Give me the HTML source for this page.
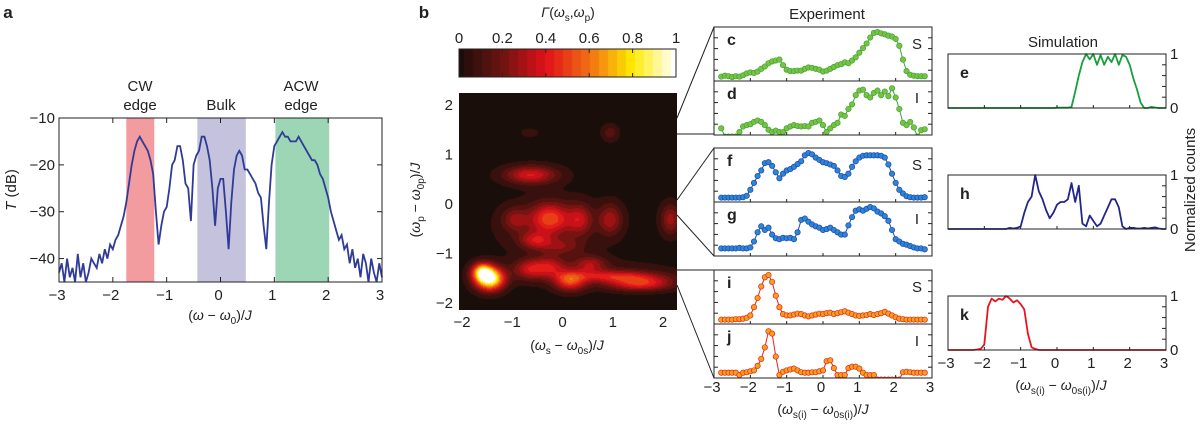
<!DOCTYPE html>
<html><head><meta charset="utf-8"><style>
body{margin:0;background:#fff;width:1200px;height:425px;overflow:hidden;position:relative;font-family:"Liberation Sans",sans-serif}
#hm{position:absolute;left:459px;top:93px}
#cb{position:absolute;left:459px;top:49px}
svg{position:absolute;left:0;top:0}
</style></head><body>
<canvas id="hm" width="218" height="217"></canvas>
<canvas id="cb" width="217" height="28"></canvas>
<svg id="s" width="1200" height="425" font-family="Liberation Sans, sans-serif" font-size="14"></svg>
<script>
// ---- panel a data ----
const aX=[-3,-2.95,-2.9,-2.85,-2.8,-2.75,-2.7,-2.65,-2.6,-2.55,-2.5,-2.45,-2.4,-2.35,-2.3,-2.25,-2.2,-2.15,-2.1,-2.05,-2,-1.95,-1.9,-1.85,-1.8,-1.75,-1.7,-1.65,-1.6,-1.55,-1.5,-1.45,-1.4,-1.35,-1.3,-1.25,-1.2,-1.15,-1.1,-1.05,-1,-0.95,-0.9,-0.85,-0.8,-0.75,-0.7,-0.65,-0.6,-0.55,-0.5,-0.45,-0.4,-0.35,-0.3,-0.25,-0.2,-0.15,-0.1,-0.05,0,0.05,0.1,0.15,0.2,0.25,0.3,0.35,0.4,0.45,0.5,0.55,0.6,0.65,0.7,0.75,0.8,0.85,0.9,0.95,1,1.05,1.1,1.15,1.2,1.25,1.3,1.35,1.4,1.45,1.5,1.55,1.6,1.65,1.7,1.75,1.8,1.85,1.9,1.95,2,2.05,2.1,2.15,2.2,2.25,2.3,2.35,2.4,2.45,2.5,2.55,2.6,2.65,2.7,2.75,2.8,2.85,2.9,2.95,3];
const aT=[-43,-41,-45,-40,-44,-42,-45,-39,-44,-41,-45,-43,-40,-41,-42,-39,-41,-38,-40,-37,-38,-36,-35,-33,-31,-28,-24,-20,-17,-15,-14,-15,-16,-17,-19,-22,-30,-37,-33,-30,-29,-25,-20,-19,-16,-16,-19,-24,-25,-32,-20,-18,-17,-14,-14,-16,-19,-25,-33,-25,-23,-23,-30,-38,-28,-21,-18,-17,-18,-21,-21,-22,-23,-24,-26,-27,-33,-38,-28,-20,-16,-15,-14,-13,-14,-14,-15,-15,-15,-14,-15,-16,-17,-18,-19,-19,-20,-22,-23,-25,-27,-30,-32,-34,-36,-35,-38,-37,-41,-38,-42,-40,-44,-39,-41,-45,-40,-43,-45,-41,-44];
const aXTicks=[-3,-2,-1,0,1,2,3];
const aYTicks=[-10,-20,-30,-40];
const bandStart=[-1.75,-0.43,1.02];
const bandEnd=[-1.23,0.47,2.02];
const bandColor=["#f29ca0","#c4c2dd","#9dd6b4"];
// ---- heatmap blobs ----
const blobX=[-1.5,-1.65,-0.3,-0.7,-0.6,0.1,1.5,1.0,-0.7,0.3,0.9,2.1,-1.0,0.9,-0.7,0.5,-0.3,-0.1,-0.3,0.6,-0.6];
const blobY=[-1.5,-1.35,-0.28,0.6,-0.72,-1.55,-1.6,-1.45,-1.3,-0.3,-0.3,-0.3,-0.3,1.45,1.45,-1.2,-1.25,-0.85,-0.5,-1.4,0.6];
const blobAmp=[1.0,0.6,0.45,0.3,0.28,0.45,0.42,0.3,0.3,0.28,0.28,0.28,0.22,0.15,0.1,0.25,0.28,0.18,0.09,0.11,0.1];
const blobSx=[0.2,0.14,0.28,0.35,0.22,0.22,0.45,0.6,0.22,0.17,0.17,0.14,0.18,0.12,0.12,0.22,0.22,0.3,0.8,1.1,0.42];
const blobSy=[0.16,0.12,0.22,0.12,0.12,0.14,0.1,0.08,0.14,0.22,0.22,0.22,0.17,0.12,0.06,0.12,0.14,0.12,0.45,0.18,0.16];
const cbTicks=[0,0.2,0.4,0.6,0.8,1];
const hmXTicks=[-2,-1,0,1,2];
const hmYTicks=[2,1,0,-1,-2];
// ---- experiment series ----
const expC=[0.03,0.05,0.04,0.02,0.04,0.03,0.06,0.1,0.12,0.11,0.14,0.2,0.25,0.32,0.36,0.38,0.4,0.28,0.18,0.15,0.15,0.16,0.16,0.2,0.23,0.22,0.2,0.18,0.14,0.16,0.2,0.24,0.28,0.3,0.34,0.32,0.38,0.45,0.55,0.65,0.75,0.88,0.98,1.0,0.97,0.95,0.92,0.9,0.85,0.7,0.4,0.15,0.07,0.05,0.04,0.04,0.04];
const expD=[0.08,-0.1,-0.1,-0.1,-0.1,0.0,0.12,0.15,0.17,0.22,0.25,0.22,0.15,0.05,0.0,0.03,0.0,0.0,0.08,0.12,0.15,0.13,0.12,0.13,0.12,0.2,0.22,0.25,0.15,0.0,0.08,0.15,0.2,0.38,0.35,0.5,0.6,0.8,0.9,0.92,0.8,0.75,0.85,0.9,0.8,0.88,0.78,0.95,0.75,0.5,0.2,0.15,0.22,0.1,-0.1,0.04,0.06];
const expF=[0.03,0.03,0.03,0.03,0.03,0.03,0.04,0.07,0.2,0.35,0.5,0.62,0.78,0.8,0.72,0.58,0.45,0.55,0.62,0.65,0.7,0.76,0.82,0.95,1.0,0.97,0.9,0.85,0.8,0.78,0.75,0.72,0.62,0.5,0.48,0.55,0.7,0.82,0.9,0.94,0.95,0.95,0.95,0.95,0.94,0.9,0.75,0.55,0.35,0.2,0.12,0.06,0.04,0.03,0.03,0.03,0.04];
const expG=[0.1,0.1,0.1,0.1,0.1,0.11,0.1,0.1,0.12,0.25,0.45,0.58,0.5,0.55,0.4,0.32,0.3,0.33,0.32,0.33,0.3,0.45,0.72,0.75,0.68,0.62,0.58,0.55,0.5,0.52,0.55,0.5,0.45,0.4,0.4,0.6,0.78,0.92,0.95,0.92,0.96,1.0,0.97,0.9,0.86,0.8,0.7,0.5,0.3,0.25,0.2,0.18,0.15,0.12,0.1,0.1,0.08];
const expI=[0.03,0.03,0.03,0.03,0.04,0.04,0.05,0.07,0.12,0.3,0.5,0.75,0.95,1.0,0.85,0.55,0.3,0.15,0.12,0.12,0.14,0.16,0.15,0.12,0.1,0.12,0.14,0.16,0.15,0.17,0.18,0.15,0.17,0.19,0.21,0.18,0.15,0.12,0.11,0.12,0.13,0.15,0.13,0.15,0.17,0.2,0.16,0.12,0.08,0.05,0.04,0.03,0.03,0.03,0.03,0.03,0.03];
const expJ=[0.05,0.05,0.05,0.05,0.05,0.0,0.05,0.06,0.08,0.1,0.2,0.35,0.6,0.95,0.9,0.4,0.0,0.07,0.1,0.12,0.14,0.1,0.06,0.05,0.05,0.06,0.06,0.08,0.1,0.3,0.32,0.15,0.0,0.0,0.0,0.15,0.18,0.18,0.14,0.05,0.0,0.0,0.0,-0.1,-0.1,-0.1,-0.1,-0.1,-0.1,-0.1,0.06,0.07,0.06,0.05,0.05,0.05,0.05];
// ---- simulation series (x=-3..3 step 0.1) ----
const simE=[0,0,0,0,0,0,0,0,0,0,0,0,0,0,0,0,0,0,0,0,0,0,0,0,0,0,0,0,0,0,0.005,0.005,0.005,0.005,0.02,0.3,0.6,0.85,1.0,0.9,1.0,0.8,0.98,0.8,0.95,0.85,1.0,0.8,0.98,0.95,0.8,0.55,0.35,0.1,0,0,0.02,0.01,0,0,0];
const simH=[0,0,0,0,0,0,0,0,0,0,0,0,0,0,0,0,0,0.02,0.01,0.02,0.05,0.3,0.5,0.6,1.0,0.7,0.55,0.35,0.2,0.3,0.45,0.5,0.5,0.55,0.85,0.5,0.8,0.1,0.05,0.25,0.15,0.05,0.1,0.25,0.4,0.55,0.55,0.4,0.05,0,0.02,0.02,0.01,0.01,0.02,0.01,0.02,0.03,0.01,0,0];
const simK=[0,0,0,0,0,0,0,0,0.01,0.02,0.1,0.8,0.95,0.9,0.95,0.93,1.0,0.95,0.88,0.92,0.85,0.75,0.3,0.05,0.02,0,0,0,0,0,0,0,0,0,0,0,0,0,0,0,0,0,0,0,0,0,0,0,0,0,0,0,0,0,0,0,0,0,0,0,0];
const expTicks=[-3,-2,-1,0,1,2,3];

const S=document.getElementById('s');const NS='http://www.w3.org/2000/svg';
function el(t,a,txt){const e=document.createElementNS(NS,t);for(const k in a)e.setAttribute(k,a[k]);if(txt!==undefined)e.textContent=txt;S.appendChild(e);return e;}
function txt(x,y,s,o){o=o||{};const e=el('text',Object.assign({x:x,y:y,'text-anchor':o.a||'middle',fill:'#222','font-size':o.fs||14},o.attr||{}));if(o.html)e.innerHTML=s;else e.textContent=s;return e;}
function lin(x1,y1,x2,y2,c,w,n){const e=el('line',{x1,y1,x2,y2,stroke:c||'#222','stroke-width':w||1});return e;}
const W='<tspan font-style="italic">ω</tspan>';
const sub=(s,next)=>'<tspan font-size="10" dy="4">'+s+'</tspan><tspan dy="-4">'+next+'</tspan>';
const JJ='<tspan font-style="italic">J</tspan>';

// ===== panel a =====
const ax=v=>59+(v+3)*(323/6), ay=v=>118+(-10-v)*(164/35);
for(let i=0;i<bandStart.length;i++){const r=el('rect',{x:ax(bandStart[i]),y:118,width:ax(bandEnd[i])-ax(bandStart[i]),height:164,fill:bandColor[i]});}
let pts=aX.map((x,i)=>ax(x).toFixed(1)+','+ay(Math.max(-45,aT[i])).toFixed(1)).join(' ');
let pl=el('polyline',{points:pts,fill:'none',stroke:'#2f3b96','stroke-width':1.8});
let fr=el('rect',{x:59,y:118,width:323,height:164,fill:'none',stroke:'#222'});
aXTicks.forEach(v=>{lin(ax(v),282,ax(v),277);lin(ax(v),118,ax(v),123);txt(ax(v)-2,300,v<0?'−'+(-v):''+v,{fs:15,n:'a-x-tick'});});
aYTicks.forEach(v=>{lin(59,ay(v),64,ay(v));lin(382,ay(v),377,ay(v));txt(55,ay(v)+5,'−'+(-v),{a:'end',fs:15,n:'a-y-tick'});});
txt(220,320,'('+W+' − '+W+sub('0',')/')+JJ,{fs:14,n:'a-x-title',html:true});
txt(16,190,'<tspan font-style="italic">T</tspan> (dB)',{fs:15,n:'a-y-title',html:true,attr:{transform:'rotate(-90 16 190)'}});
txt(140,91,'CW',{fs:15,n:'cw-label'});txt(140,110,'edge',{fs:15,n:'cw-label-2'});
txt(221,110,'Bulk',{fs:15,n:'bulk-label'});
txt(301,91,'ACW',{fs:15,n:'acw-label'});txt(301,110,'edge',{fs:15,n:'acw-label-2'});
txt(8,18,'a',{fs:17,n:'panel-a-letter',attr:{'font-weight':'bold'}});
txt(424,18,'b',{fs:17,n:'panel-b-letter',attr:{'font-weight':'bold'}});

// ===== heatmap =====
function cmap(v){v=Math.max(0,Math.min(1,v));const st=[[0,26,14,11],[0.2,110,20,16],[0.4,225,16,26],[0.6,240,110,20],[0.8,255,235,0],[1,255,255,255]];
for(let i=1;i<st.length;i++){if(v<=st[i][0]){const a=st[i-1],b=st[i],t=(v-a[0])/(b[0]-a[0]);return [a[1]+(b[1]-a[1])*t,a[2]+(b[2]-a[2])*t,a[3]+(b[3]-a[3])*t];}}return [255,255,255];}
const hx=v=>464+(v+2)*(201/4), hy=v=>105+(2-v)*(198/4);
const hc=document.getElementById('hm').getContext('2d');const img=hc.createImageData(218,217);
for(let py=0;py<217;py++)for(let px=0;px<218;px++){const X=(px+459-464)/(201/4)-2, Y=2-(py+93-105)/(198/4);let f=0;
for(let b=0;b<blobX.length;b++){const dx=(X-blobX[b])/blobSx[b],dy=(Y-blobY[b])/blobSy[b];f+=blobAmp[b]*Math.exp(-0.5*(dx*dx+dy*dy));}
f=Math.round(Math.min(1,f)*14)/14;const c=cmap(f);const k=(py*218+px)*4;img.data[k]=c[0];img.data[k+1]=c[1];img.data[k+2]=c[2];img.data[k+3]=255;}
hc.putImageData(img,0,0);
const cc=document.getElementById('cb').getContext('2d');for(let px=0;px<217;px++){const c=cmap(Math.round(px/216*24)/24);cc.fillStyle='rgb('+c.map(Math.round).join(',')+')';cc.fillRect(px,0,1,28);}
let cbf=el('rect',{x:459,y:49,width:217,height:28,fill:'none',stroke:'#222'});
cbTicks.forEach(v=>{const x=459+v*217;lin(x,49,x,53);lin(x,77,x,73);txt(x,43,''+v,{fs:15,n:'cb-tick'});});
txt(568,17,'<tspan font-style="italic">Γ</tspan>('+W+sub('s',',')+W+sub('p',')'),{fs:14,n:'cb-title',html:true});
hmXTicks.forEach(v=>txt(hx(v)-2,327,v<0?'−'+(-v):''+v,{fs:15,n:'hm-x-tick'}));
hmYTicks.forEach(v=>txt(453,hy(v)+5,v<0?'−'+(-v):''+v,{a:'end',fs:15,n:'hm-y-tick'}));
txt(567,350,'('+W+sub('s',' − ')+W+sub('0s',')/')+JJ,{fs:14,n:'hm-x-title',html:true});
txt(420,200,'('+W+sub('p',' − ')+W+sub('0p',')/')+JJ,{fs:14,n:'hm-y-title',html:true,attr:{transform:'rotate(-90 420 200)'}});

// ===== experiment panels =====
const ex=v=>714+(v+3)*(218/6);
const expPanels=[[expC,27,'c','S','#3aa635','#7cc242'],[expD,81,'d','I','#3aa635','#7cc242'],[expF,148,'f','S','#2346a8','#2a86d8'],[expG,202,'g','I','#2346a8','#2a86d8'],[expI,270,'i','S','#e8231f','#f5a019'],[expJ,324,'j','I','#e8231f','#f5a019']];
const defs=el('defs',{});
expPanels.forEach((p,pi)=>{const [d,top,L,T,lc,fc]=p;const h=54;
 const cp=document.createElementNS(NS,'clipPath');cp.setAttribute('id','cp'+pi);const cr=document.createElementNS(NS,'rect');cr.setAttribute('x',712);cr.setAttribute('y',top-3);cr.setAttribute('width',222);cr.setAttribute('height',h+3);cp.appendChild(cr);defs.appendChild(cp);
 const g=el('g',{'clip-path':'url(#cp'+pi+')'});
 const xs=d.map((v,i)=>-2.8+i*5.6/(d.length-1));const yv=v=>top+h-3-v*(h-8);
 const l=document.createElementNS(NS,'polyline');l.setAttribute('points',d.map((v,i)=>ex(xs[i]).toFixed(1)+','+yv(v).toFixed(1)).join(' '));l.setAttribute('fill','none');l.setAttribute('stroke',lc);l.setAttribute('stroke-width',1);g.appendChild(l);
 d.forEach((v,i)=>{const c=document.createElementNS(NS,'circle');c.setAttribute('cx',ex(xs[i]));c.setAttribute('cy',yv(v));c.setAttribute('r',2.7);c.setAttribute('fill',fc);c.setAttribute('stroke',lc);c.setAttribute('stroke-width',0.7);g.appendChild(c);});
 const f=el('rect',{x:714,y:top,width:218,height:h,fill:'none',stroke:'#222'});
 for(let k=1;k<5;k++){lin(714,top+k*h/5,718,top+k*h/5,'#222',1,'y-tick');lin(932,top+k*h/5,928,top+k*h/5,'#222',1,'y-tick');}
 expTicks.forEach(v=>{lin(ex(v),top+h,ex(v),top+h-3,'#222',1,'x-tick');});
 txt(727,top+18,L,{a:'start',fs:16,n:'panel-'+L+'-letter',attr:{'font-weight':'bold'}});
 txt(917,top+22,T,{fs:15,n:'panel-'+L+'-tag'});
});
expTicks.forEach(v=>txt(ex(v)-2,392,v<0?'−'+(-v):''+v,{fs:15,n:'exp-x-tick'}));
txt(823,414,'('+W+sub('s(i)',' − ')+W+sub('0s(i)',')/')+JJ,{fs:14,n:'exp-x-title',html:true});
txt(827,19,'Experiment',{fs:15,n:'experiment-title'});
lin(677,118,714,27,'#222',1,'connector');lin(677,134,714,134,'#222',1,'connector');
lin(677,200,714,148,'#222',1,'connector');lin(677,215,714,256,'#222',1,'connector');
lin(677,270,714,270,'#222',1,'connector');lin(677,285,714,378,'#222',1,'connector');

// ===== simulation panels =====
const sx=v=>948+(v+3)*(218/6);
const simPanels=[[simE,54,'e','#16a03c'],[simH,175,'h','#22268a'],[simK,296,'k','#e8141e']];
simPanels.forEach(p=>{const [d,top,L,c]=p;const h=54;const yv=v=>top+h-v*h;
 const l=el('polyline',{points:d.map((v,i)=>sx(-3+i*0.1).toFixed(1)+','+yv(v).toFixed(1)).join(' '),fill:'none',stroke:c,'stroke-width':1.8,'stroke-linejoin':'round'});
 const f=el('rect',{x:948,y:top,width:218,height:h,fill:'none',stroke:'#222'});
 for(let k=1;k<5;k++)lin(1166,top+k*h/5,1162,top+k*h/5,'#222',1,'y-tick');
 expTicks.forEach(v=>lin(sx(v),top+h,sx(v),top+h-3,'#222',1,'x-tick'));
 txt(1170,top+5,'1',{a:'start',fs:15,n:'sim-y-tick'});txt(1170,top+h+5,'0',{a:'start',fs:15,n:'sim-y-tick'});
 txt(960,top+24,L,{a:'start',fs:16,n:'panel-'+L+'-letter',attr:{'font-weight':'bold'}});
});
expTicks.forEach(v=>txt(sx(v)-2,368,v<0?'−'+(-v):''+v,{fs:15,n:'sim-x-tick'}));
txt(1061,390,'('+W+sub('s(i)',' − ')+W+sub('0s(i)',')/')+JJ,{fs:14,n:'sim-x-title',html:true});
txt(1063,47,'Simulation',{fs:15,n:'simulation-title'});
txt(1195,190,'Normalized counts',{fs:15,n:'sim-y-title',attr:{transform:'rotate(-90 1195 190)'}});
</script>
</body></html>
